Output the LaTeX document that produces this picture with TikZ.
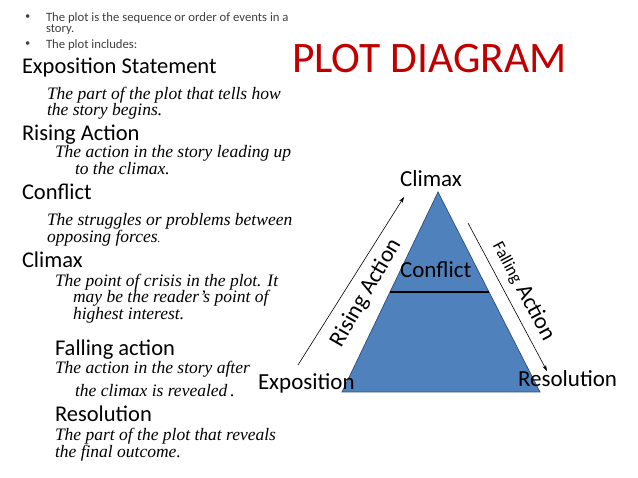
\documentclass[tikz,border=0pt]{standalone}
\usepackage{fontspec}
\setmainfont{Liberation Serif}
\newfontfamily\headfont{Carlito}
\usetikzlibrary{arrows.meta,calc}
\definecolor{tri}{HTML}{4F81BD}
\definecolor{triedge}{HTML}{2F4F7A}
\definecolor{titlered}{HTML}{C00000}
\definecolor{bulgray}{HTML}{404040}
\begin{document}
\begin{tikzpicture}[x=1pt,y=-1pt,
  every node/.style={inner sep=0pt,outer sep=0pt},
  bul/.style={anchor=base west,text=bulgray,font=\headfont\fontsize{12.7}{14}\selectfont},
  head/.style={anchor=base west,font=\headfont\fontsize{22.5}{26}\selectfont},
  desc/.style={anchor=base west,font=\itshape\fontsize{17.5}{20}\selectfont},
  lab/.style={anchor=base west,font=\headfont\fontsize{23}{26}\selectfont},
  arr/.style={-{Stealth[length=6pt,width=4pt]},line width=0.6pt}]
\useasboundingbox (0,0) rectangle (638,478);
\fill[white] (0,0) rectangle (638,478);
% bullets
\node[bul,font=\fontsize{15}{16}\selectfont] (b1m) at (25,22) {\textbullet};
\node[bul] (b1) at (46,22) {The plot is the sequence or order of events in a};
\node[bul] (b1b) at (46,33) {story.};
\node[bul,font=\fontsize{15}{16}\selectfont] (b2m) at (25,49) {\textbullet};
\node[bul] (b2) at (46,49) {The plot includes:};
% title
\node[anchor=base west,text=titlered,font=\headfont\fontsize{43.5}{48}\selectfont] (title) at (292,73) {PLOT DIAGRAM};
% left column
\node[head] (h1) at (22,74) {Exposition Statement};
\node[desc] (d1a) at (47,100) {The part of the plot that tells how};
\node[desc] (d1b) at (47,116) {the story begins.};
\node[head] (h2) at (22,141) {Rising Action};
\node[desc] (d2a) at (55,158) {The action in the story leading up};
\node[desc] (d2b) at (75,175) {to the climax.};
\node[head] (h3) at (22,200) {Conflict};
\node[desc] (d3a) at (47,226) {The struggles or problems between};
\node[desc] (d3b) at (47,243) {opposing forces{\fontsize{11}{12}\selectfont.}};
\node[head] (h4) at (22,268) {Climax};
\node[desc] (d4a) at (55,287) {The point of crisis in the plot. It};
\node[desc] (d4b) at (73,303) {may be the reader's point of};
\node[desc] (d4c) at (73,320) {highest interest.};
\node[head] (h5) at (55,356) {Falling action};
\node[desc] (d5a) at (55,374) {The action in the story after};
\node[desc] (d5b) at (75,397) {the climax is revealed\,.};
\node[head] (h6) at (55,422) {Resolution};
\node[desc] (d6a) at (55,441) {The part of the plot that reveals};
\node[desc] (d6b) at (55,458) {the final outcome.};
% triangle
\coordinate (apex) at (438,192);
\coordinate (bl) at (342,392);
\coordinate (br) at (540,392);
\fill[tri] (apex) -- (br) -- (bl) -- cycle;
\draw[triedge,line width=0.7pt] (apex) -- (br) -- (bl) -- cycle;
\coordinate (ml) at ($(apex)!0.5!(bl)$);
\coordinate (mr) at ($(apex)!0.5!(br)$);
\draw[black,line width=1.5pt] (ml) -- (mr);
% arrows
\coordinate (ra1) at (298,365);
\coordinate (ra2) at (404,197);
\coordinate (fa1) at (468,223);
\coordinate (fa2) at (547,371);
\draw[arr] (ra1) -- (ra2);
\draw[arr] (fa1) -- (fa2);
% labels
\node[lab] (lclimax) at (400,187) {Climax};
\node[lab] (lconflict) at (400,278) {Conflict};
\node[lab] (lexpo) at (258,390) {Exposition};
\node[lab] (lreso) at (518,387) {Resolution};
\node[font=\headfont\fontsize{23}{26}\selectfont,rotate=60] (lrising) at (366,293) {Rising Action};
\node[font=\headfont\fontsize{23}{26}\selectfont,rotate=-62] (lfalling) at (524,291) {{\fontsize{17}{20}\selectfont Falling} Action};
\end{tikzpicture}
\end{document}
